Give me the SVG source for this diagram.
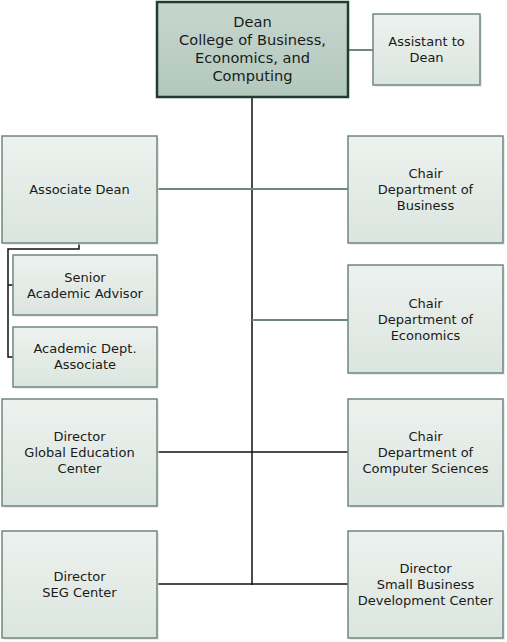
<svg xmlns="http://www.w3.org/2000/svg" width="507" height="642" viewBox="0 0 507 642">
<defs>
<linearGradient id="g" x1="0" y1="0" x2="0" y2="1">
<stop offset="0" stop-color="#edf2ef"/>
<stop offset="1" stop-color="#dbe5df"/>
</linearGradient>
<linearGradient id="gd" x1="0" y1="0" x2="0" y2="1">
<stop offset="0" stop-color="#c6d6ce"/>
<stop offset="1" stop-color="#b3c8bd"/>
</linearGradient>
</defs>
<style>
.b{fill:url(#g);stroke:#6f877c;stroke-width:1.5}
.sh{fill:#dddddd;opacity:0.6}
.d{fill:url(#gd);stroke:#1f3d30;stroke-width:2.5}
.t{font-family:"DejaVu Sans",Verdana,sans-serif;font-size:13px;fill:#1a1a1a;text-anchor:middle}
.td{font-family:"DejaVu Sans",Verdana,sans-serif;font-size:14.6px;fill:#1a1a1a;text-anchor:middle}
.c{fill:none;stroke:#6f877c;stroke-width:2}
.k{fill:none;stroke:#111;stroke-width:1.5}
</style>
<g id="connectors">
<line class="k" x1="252" y1="97" x2="252" y2="585"/>
<line class="c" x1="157" y1="189" x2="348" y2="189"/>
<line class="c" x1="252" y1="320" x2="348" y2="320"/>
<line class="k" x1="157" y1="452" x2="348" y2="452"/>
<line class="k" x1="157" y1="584" x2="348" y2="584"/>
<line class="c" x1="348" y1="50" x2="373" y2="50"/>
<polyline class="k" points="79,243 79,249 8,249 8,357 13,357"/>
<line class="k" x1="8" y1="285" x2="13" y2="285"/>
</g>
<g id="dean">
<rect class="d" x="157" y="2" width="191" height="95"/>
<text class="td" x="252.5" y="27">Dean</text>
<text class="td" x="252.5" y="45">College of Business,</text>
<text class="td" x="252.5" y="63">Economics, and</text>
<text class="td" x="252.5" y="81">Computing</text>
</g>
<g id="assistant">
<rect class="sh" x="375" y="16" width="107" height="71"/>
<rect class="b" x="373" y="14" width="107" height="71"/>
<text class="t" x="426.5" y="46">Assistant to</text>
<text class="t" x="426.5" y="62">Dean</text>
</g>
<g id="assocdean">
<rect class="sh" x="4" y="138" width="155" height="107"/>
<rect class="b" x="2" y="136" width="155" height="107"/>
<text class="t" x="79.5" y="194">Associate Dean</text>
</g>
<g id="senior">
<rect class="sh" x="15" y="257" width="144" height="60"/>
<rect class="b" x="13" y="255" width="144" height="60"/>
<text class="t" x="85" y="282">Senior</text>
<text class="t" x="85" y="298">Academic Advisor</text>
</g>
<g id="deptassoc">
<rect class="sh" x="15" y="329" width="144" height="60"/>
<rect class="b" x="13" y="327" width="144" height="60"/>
<text class="t" x="85" y="353">Academic Dept.</text>
<text class="t" x="85" y="369">Associate</text>
</g>
<g id="global">
<rect class="sh" x="4" y="401" width="155" height="107"/>
<rect class="b" x="2" y="399" width="155" height="107"/>
<text class="t" x="79.5" y="441">Director</text>
<text class="t" x="79.5" y="457">Global Education</text>
<text class="t" x="79.5" y="473">Center</text>
</g>
<g id="seg">
<rect class="sh" x="4" y="533" width="155" height="107"/>
<rect class="b" x="2" y="531" width="155" height="107"/>
<text class="t" x="79.5" y="581">Director</text>
<text class="t" x="79.5" y="597">SEG Center</text>
</g>
<g id="business">
<rect class="sh" x="350" y="138" width="155" height="107"/>
<rect class="b" x="348" y="136" width="155" height="107"/>
<text class="t" x="425.5" y="178">Chair</text>
<text class="t" x="425.5" y="194">Department of</text>
<text class="t" x="425.5" y="210">Business</text>
</g>
<g id="economics">
<rect class="sh" x="350" y="267" width="155" height="108"/>
<rect class="b" x="348" y="265" width="155" height="108"/>
<text class="t" x="425.5" y="308">Chair</text>
<text class="t" x="425.5" y="324">Department of</text>
<text class="t" x="425.5" y="340">Economics</text>
</g>
<g id="cs">
<rect class="sh" x="350" y="401" width="155" height="107"/>
<rect class="b" x="348" y="399" width="155" height="107"/>
<text class="t" x="425.5" y="441">Chair</text>
<text class="t" x="425.5" y="457">Department of</text>
<text class="t" x="425.5" y="473">Computer Sciences</text>
</g>
<g id="sbdc">
<rect class="sh" x="350" y="533" width="155" height="107"/>
<rect class="b" x="348" y="531" width="155" height="107"/>
<text class="t" x="425.5" y="573">Director</text>
<text class="t" x="425.5" y="589">Small Business</text>
<text class="t" x="425.5" y="605">Development Center</text>
</g>
</svg>
